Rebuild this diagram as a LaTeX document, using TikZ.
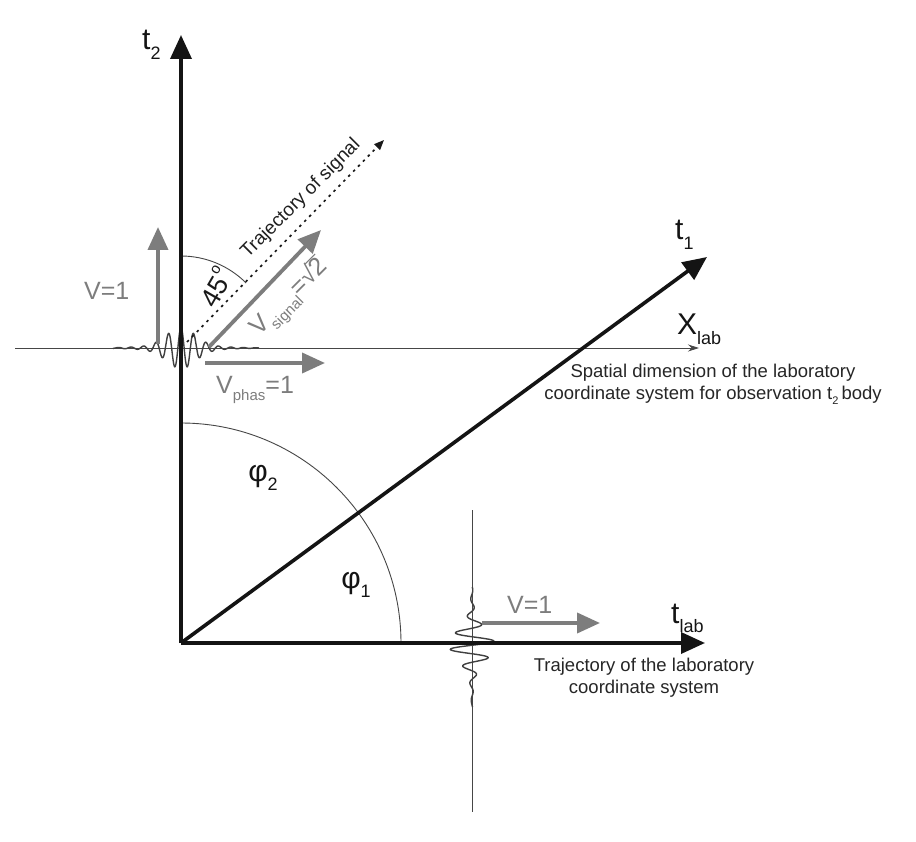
\documentclass[tikz,border=0pt]{standalone}
\usepackage{fontspec}
\setmainfont{Liberation Sans}
\usetikzlibrary{arrows.meta}
\definecolor{vgray}{RGB}{125,125,125}
\definecolor{lgray}{RGB}{70,70,70}
\newcommand\mysub[1]{\raisebox{-0.32em}{\fontsize{18}{18}\selectfont #1}}
\newcommand\mysubs[1]{\raisebox{-0.3em}{\fontsize{15}{15}\selectfont #1}}
\begin{document}
\begin{tikzpicture}[x=1pt,y=-1pt,
  axis/.style={line width=3.6pt, black!92, -{Triangle[length=24pt,width=21pt]}},
  garrow/.style={line width=3.8pt, vgray, -{Triangle[length=23pt,width=20pt]}},
  thinline/.style={line width=0.9pt, lgray},
  wave/.style={line width=1.4pt, black!75},
  biglab/.style={font=\fontsize{30}{30}\selectfont, inner sep=0pt, text=black!92},
  glab/.style={font=\fontsize{25}{25}\selectfont, text=vgray, inner sep=0pt},
  desc/.style={font=\fontsize{18.5}{22}\selectfont, text=black!85, align=center, inner sep=0pt},
]
\useasboundingbox (0,0) rectangle (916,842);
\fill[white] (0,0) rectangle (916,842);

% coordinates
\coordinate (O) at (181,643);
\coordinate (T2) at (181,35);
\coordinate (T1) at (707,257);
\coordinate (TL) at (705,643);
\coordinate (XS) at (15,348);
\coordinate (XE) at (699,348);
\coordinate (VB) at (472,510);
\coordinate (VE) at (472,812);
\coordinate (DS) at (187,342);
\coordinate (DE) at (384,140);

% thin lines
\draw[thinline, -{Stealth[length=11pt,width=7pt]}] (XS) -- (XE);
\draw[thinline] (VB) -- (VE);

% waves
\draw[wave] plot[domain=-68:78, samples=700]
  ({181+\x},{348-(18*exp(0-(\x/20)*(\x/20))+2.5*exp(0-(\x/50)*(\x/50)))*cos(\x/12.5*360)});
\draw[wave] plot[domain=-58:62, samples=600]
  ({472+(20*exp(0-(\x/21)*(\x/21))+2.5*exp(0-(\x/50)*(\x/50)))*cos((\x+4)/17*360)},{645+\x});

% arcs
\draw[thinline] (401,643) arc[start angle=0, end angle=-90, radius=220];
\draw[thinline] (181,256) arc[start angle=-90, end angle=-45, radius=92];

% dotted trajectory of signal
\draw[black!90, line width=1.7pt, dash pattern=on 2.5pt off 4.5pt,
  -{Triangle[length=10pt,width=8pt]}] (DS) -- (DE);

% axes
\draw[axis] (O) -- (T2);
\draw[axis] (O) -- (TL);
\draw[axis] (O) -- (T1);

% gray arrows
\coordinate (GV1s) at (158,344);
\coordinate (GV1e) at (158,227);
\coordinate (GPs) at (205,363);
\coordinate (GPe) at (325,363);
\coordinate (GSs) at (209,347);
\coordinate (GSe) at (321,230);
\coordinate (GBs) at (482,623);
\coordinate (GBe) at (600,623);
\draw[garrow] (GV1s) -- (GV1e);
\draw[garrow] (GPs) -- (GPe);
\draw[garrow] (GSs) -- (GSe);
\draw[garrow] (GBs) -- (GBe);

% labels
\node[biglab, anchor=base west] (lt2) at (142,50) {t\mysub{2}};
\node[biglab, anchor=base west] (lt1) at (675,240) {t\mysub{1}};
\node[biglab, anchor=base west] (ltl) at (671,623) {t\mysub{lab}};
\node[biglab, anchor=base west] (lxl) at (677,335) {X\mysub{lab}};
\node[biglab] (phi2) at (263,478) {φ\mysub{2}};
\node[biglab] (phi1) at (356,585) {φ\mysub{1}};

\node[glab, anchor=base west] (v1a) at (84,300) {V=1};
\node[glab, anchor=base west] (v1b) at (507,613) {V=1};
\node[glab, anchor=base west] (vph) at (216,393) {V\mysubs{phas}=1};
\node[glab, rotate=45] (vsig) at (291,299)
  {V\mysubs{signal}=√\kern-0.5pt{\setbox0\hbox{2}\rlap{\rule[\dimexpr\ht0+1.5pt\relax]{\wd0}{1pt}}2}};
\node[font=\fontsize{27}{27}\selectfont, text=black!90, inner sep=0pt, rotate=60] (a45) at (215,287)
  {45\raisebox{0.55em}{\fontsize{15}{15}\selectfont o}};

\node[font=\fontsize{19}{19}\selectfont, text=black!88, inner sep=0pt, rotate=45] (trs) at (301,199)
  {Trajectory of signal};

\node[desc] (sp) at (713,384) {Spatial dimension of the laboratory\\coordinate system for observation t\raisebox{-0.25em}{\fontsize{11}{11}\selectfont 2}\,body};
\node[desc] (tl) at (644,678) {Trajectory of the laboratory\\coordinate system};
\end{tikzpicture}
\end{document}
